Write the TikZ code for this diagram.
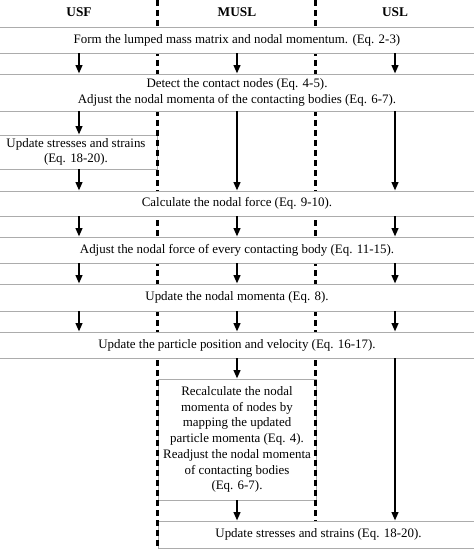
\documentclass[tikz,border=0pt]{standalone}
\usepackage{fontspec}
\setmainfont{Liberation Serif}
\usepackage{tikz}
\usetikzlibrary{arrows.meta}

\begin{document}
\begin{tikzpicture}[x = 0.75pt, y = -0.75pt]
		\tikzset{> = {Triangle[length = 6.3pt, width = 5pt]}}
		\tikzset{stepbox/.style = {draw = gray!65, fill = white, line width = 0.7pt, align = center, inner sep = 0pt, font = \fontsize{9.7}{11.8}\selectfont}}
		\tikzset{flow/.style = {->, line width = 1.4pt}}
		\tikzset{lane/.style = {line width = 1.6pt, dash pattern = on 4.5pt off 3pt}}
		\useasboundingbox (0,0) rectangle (474,549);
		\clip (0,0) rectangle (474,549);
		% column headers
		\node[font = \bfseries\fontsize{10}{12}\selectfont] (USF) at (79,12){USF};
		\node[font = \bfseries\fontsize{10}{12}\selectfont] (MUSL) at (237,12){MUSL};
		\node[font = \bfseries\fontsize{10}{12}\selectfont] (USL) at (395,12){USL};
		\coordinate (cF) at (79,0);
		\coordinate (cM) at (237,0);
		\coordinate (cL) at (395,0);
		% boxes of single columns
		\node[stepbox, minimum width = 121.5pt, minimum height = 25.5pt] (stressF) at (76,152){Update stresses and strains\\(Eq. 18-20).};
		\node[stepbox, minimum width = 118.5pt, minimum height = 90.75pt] (remap) at (237,439.5){Recalculate the nodal\\momenta of nodes by\\mapping the updated\\particle momenta (Eq. 4).\\Readjust the nodal momenta\\of contacting bodies\\(Eq. 6-7).};
		\node[stepbox, minimum width = 240.75pt, minimum height = 20.25pt] (stressML) at (318.5,534.5){Update stresses and strains (Eq. 18-20).};
		% dashed lanes
		\draw[lane] (157.5,0) -- (157.5,549);
		\draw[lane] (315.5,0) -- (stressML.north -| 315.5,0);
		% steps over all columns
		\node[stepbox, minimum width = 363pt, minimum height = 19.5pt] (mass) at (237,40){Form the lumped mass matrix and nodal momentum. (Eq. 2-3)};
		\node[stepbox, minimum width = 363pt, minimum height = 27.75pt] (contact) at (237,92.5){Detect the contact nodes (Eq. 4-5).\\Adjust the nodal momenta of the contacting bodies (Eq. 6-7).};
		\node[stepbox, minimum width = 363pt, minimum height = 18.75pt] (force) at (237,203.5){Calculate the nodal force (Eq. 9-10).};
		\node[stepbox, minimum width = 363pt, minimum height = 19.5pt] (adjust) at (237,250){Adjust the nodal force of every contacting body (Eq. 11-15).};
		\node[stepbox, minimum width = 363pt, minimum height = 20.25pt] (momenta) at (237,297.5){Update the nodal momenta (Eq. 8).};
		\node[stepbox, minimum width = 363pt, minimum height = 19.5pt] (particle) at (237,345){Update the particle position and velocity (Eq. 16-17).};
		% USF
		\draw[flow] (mass.south -| cF) -- (contact.north -| cF);
		\draw[flow] (contact.south -| cF) -- (stressF.north -| cF);
		\draw[flow] (stressF.south -| cF) -- (force.north -| cF);
		\draw[flow] (force.south -| cF) -- (adjust.north -| cF);
		\draw[flow] (adjust.south -| cF) -- (momenta.north -| cF);
		\draw[flow] (momenta.south -| cF) -- (particle.north -| cF);
		% MUSL
		\draw[flow] (mass.south -| cM) -- (contact.north -| cM);
		\draw[flow] (contact.south -| cM) -- (force.north -| cM);
		\draw[flow] (force.south -| cM) -- (adjust.north -| cM);
		\draw[flow] (adjust.south -| cM) -- (momenta.north -| cM);
		\draw[flow] (momenta.south -| cM) -- (particle.north -| cM);
		\draw[flow] (particle.south -| cM) -- (remap.north -| cM);
		\draw[flow] (remap.south -| cM) -- (stressML.north -| cM);
		% USL
		\draw[flow] (mass.south -| cL) -- (contact.north -| cL);
		\draw[flow] (contact.south -| cL) -- (force.north -| cL);
		\draw[flow] (force.south -| cL) -- (adjust.north -| cL);
		\draw[flow] (adjust.south -| cL) -- (momenta.north -| cL);
		\draw[flow] (momenta.south -| cL) -- (particle.north -| cL);
		\draw[flow] (particle.south -| cL) -- (stressML.north -| cL);
	\end{tikzpicture}
\end{document}
